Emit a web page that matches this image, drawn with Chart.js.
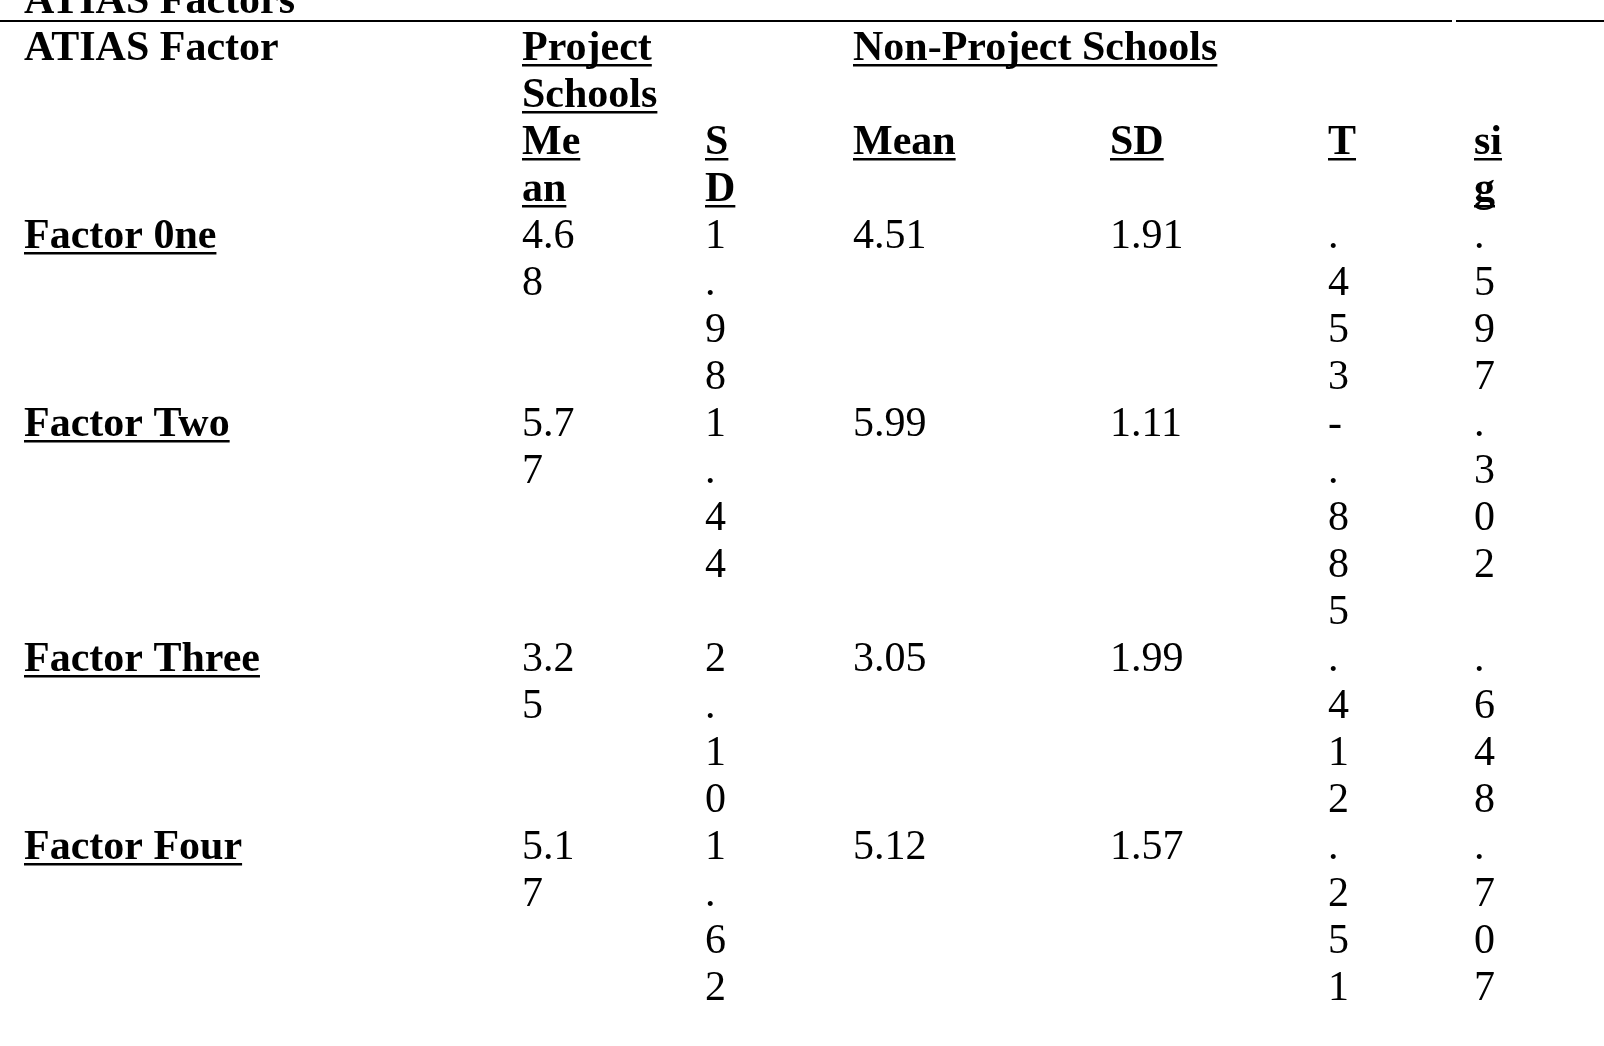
<!DOCTYPE html>
<html><head><meta charset="utf-8">
<script src="https://cdn.jsdelivr.net/npm/chart.js@4"></script>
<style>html,body{margin:0;padding:0;background:#fff}canvas{display:block}</style>
</head><body>
<canvas id="c" width="1604" height="1046"></canvas>
<script>
const title = "ATIAS Factors";
const groupHeaders = ["ATIAS Factor", "Project Schools", "", "Non-Project Schools", "", "", ""];
const columnHeaders = ["", "Mean", "SD", "Mean", "SD", "T", "sig"];
const factors = ["Factor 0ne", "Factor Two", "Factor Three", "Factor Four"];
const projectMean = ["4.68", "5.77", "3.25", "5.17"];
const projectSD = ["1.98", "1.44", "2.10", "1.62"];
const nonProjectMean = ["4.51", "5.99", "3.05", "5.12"];
const nonProjectSD = ["1.91", "1.11", "1.99", "1.57"];
const tValues = [".453", "-.885", ".412", ".251"];
const sigValues = [".597", ".302", ".648", ".707"];

// layout (in scale units == pixels)
const colX = [24, 522, 705, 853, 1110, 1328, 1474];
const colW = [400, 60, 26, 400, 400, 16, 29];
const groupW = [400, 145, 26, 500, 400, 16, 29];
const LH = 47, FS = 42;
const SERIF = '"Liberation Serif","DejaVu Serif",serif';

function wrap(ctx, text, maxW) {
  const out = [];
  const words = text.split(" ");
  let cur = "";
  for (const w of words) {
    const trial = cur ? cur + " " + w : w;
    if (ctx.measureText(trial).width <= maxW) { cur = trial; continue; }
    if (cur) { out.push(cur); cur = ""; }
    if (ctx.measureText(w).width <= maxW) { cur = w; continue; }
    let piece = "";
    for (const ch of w) {
      if (piece && ctx.measureText(piece + ch).width > maxW) { out.push(piece); piece = ch; }
      else piece += ch;
    }
    cur = piece;
  }
  if (cur) out.push(cur);
  return out;
}

const tablePlugin = {
  id: "table",
  afterDraw(chart) {
    const ctx = chart.ctx, xs = chart.scales.x, ys = chart.scales.y;
    const px = v => xs.getPixelForValue(v), py = v => ys.getPixelForValue(v);
    ctx.save();
    ctx.fillStyle = "#000"; ctx.strokeStyle = "#000";
    ctx.textBaseline = "alphabetic"; ctx.textAlign = "left";
    ctx.font = "bold " + FS + "px " + SERIF;
    ctx.fillText(title, px(24), py(13));
    ctx.lineWidth = 2;
    ctx.beginPath();
    ctx.moveTo(px(0), py(21)); ctx.lineTo(px(1452), py(21));
    ctx.moveTo(px(1456), py(21)); ctx.lineTo(px(1604), py(21));
    ctx.stroke();

    function cell(text, col, baseTop, bold, underline, widths) {
      ctx.font = (bold ? "bold " : "") + FS + "px " + SERIF;
      const lines = wrap(ctx, text, widths[col]);
      lines.forEach((ln, i) => {
        const x = px(colX[col]), y = py(baseTop + i * LH);
        ctx.fillText(ln, x, y);
        if (underline) {
          const w = ctx.measureText(ln).width;
          ctx.fillRect(x, y + 4, w, 2.5);
        }
      });
      return lines.length;
    }
    let base = 60;
    let n = 1;
    groupHeaders.forEach((h, i) => { if (h) n = Math.max(n, cell(h, i, base, true, i > 0, groupW)); });
    base += n * LH;
    n = 1;
    columnHeaders.forEach((h, i) => { if (h) n = Math.max(n, cell(h, i, base, true, true, colW)); });
    base += n * LH;
    factors.forEach((f, r) => {
      const vals = [f, projectMean[r], projectSD[r], nonProjectMean[r], nonProjectSD[r], tValues[r], sigValues[r]];
      let m = 1;
      vals.forEach((v, i) => { m = Math.max(m, cell(v, i, base, i === 0, i === 0, colW)); });
      base += m * LH;
    });
    ctx.restore();
  }
};

new Chart(document.getElementById("c"), {
  type: "scatter",
  data: { datasets: [{ data: [] }] },
  options: {
    responsive: false, animation: false,
    layout: { padding: 0 },
    plugins: { legend: { display: false }, tooltip: { enabled: false } },
    scales: {
      x: { type: "linear", min: 0, max: 1604, display: false },
      y: { type: "linear", min: 0, max: 1046, reverse: true, display: false }
    }
  },
  plugins: [tablePlugin]
});
</script>
</body></html>
